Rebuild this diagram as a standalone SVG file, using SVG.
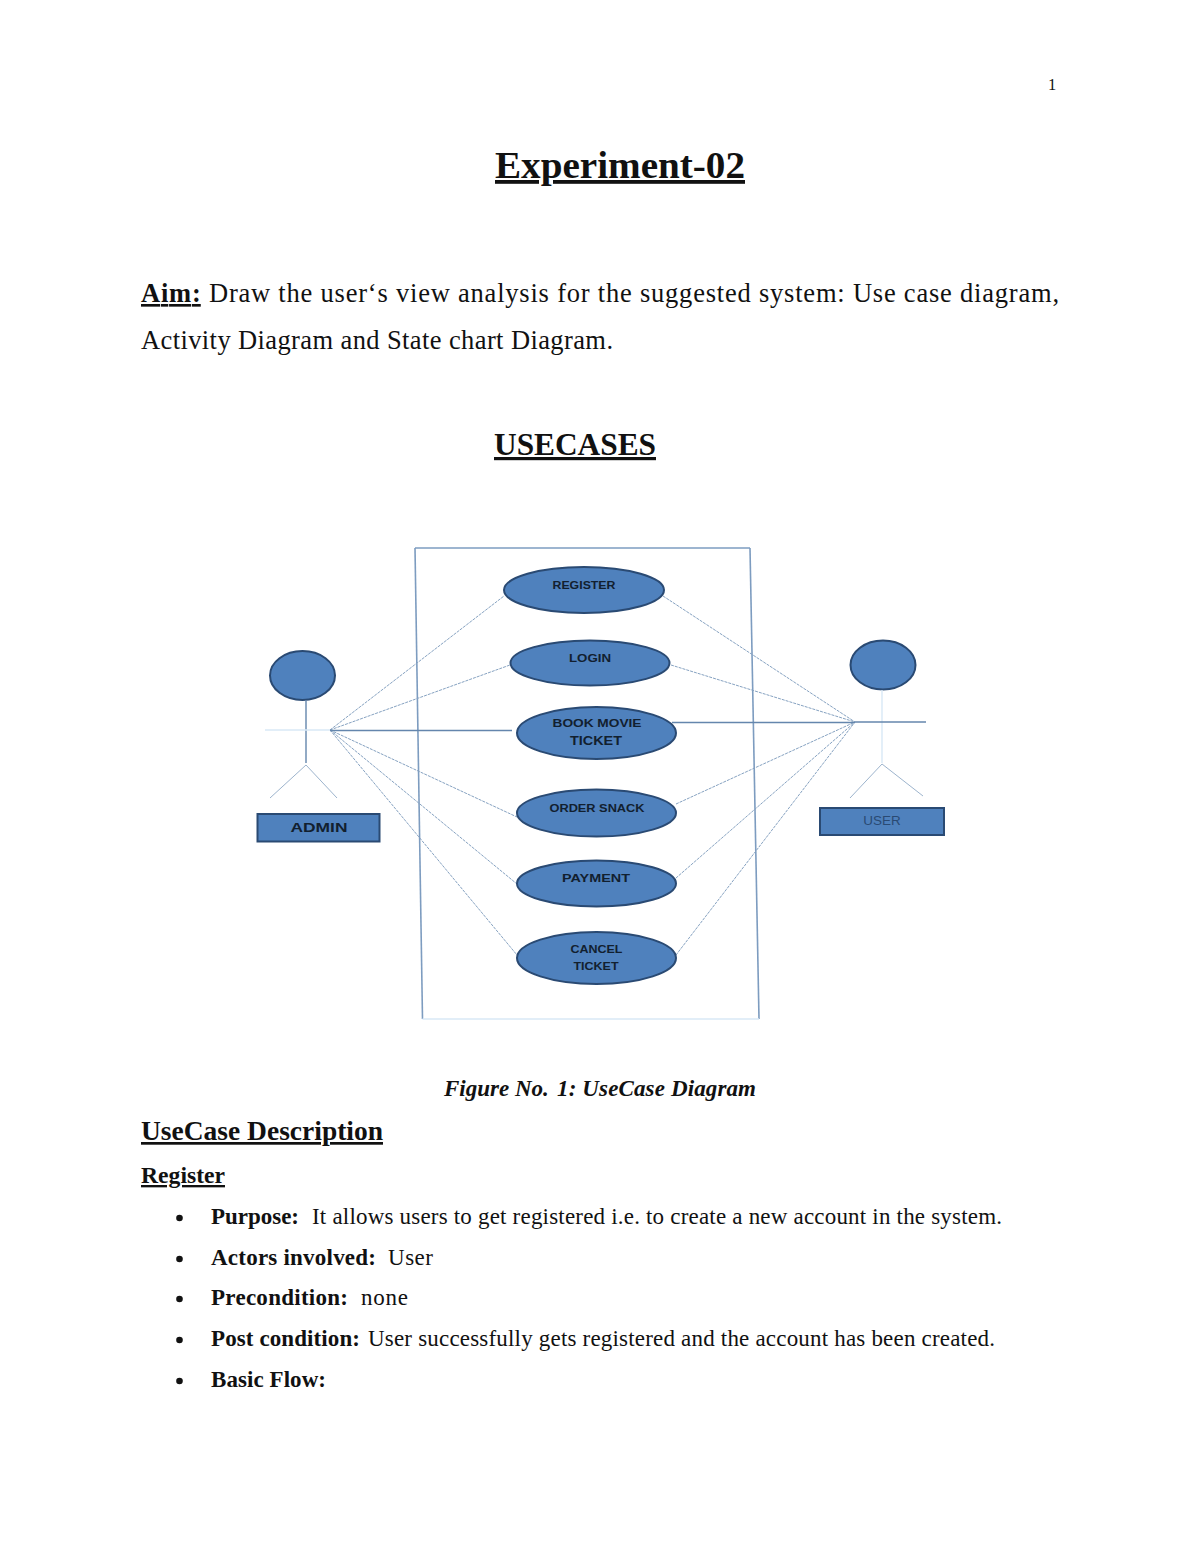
<svg xmlns="http://www.w3.org/2000/svg" width="1200" height="1553" viewBox="0 0 1200 1553">
<style>
.t{font-family:"Liberation Serif","Times New Roman",serif;fill:#111}
.b{font-weight:bold}
.body{font-size:26.500px}
.li{font-size:23px}
.u{text-decoration:underline}
.shape{fill:#4f81bd;stroke:#2a4a73;stroke-width:2}
.lab{font-family:"Liberation Sans",Arial,sans-serif;font-weight:bold;font-size:11.5px;fill:#12202f;text-anchor:middle}
.conn{fill:none;stroke:#86a2c1;stroke-width:1;stroke-dasharray:3 1}
.solid{fill:none;stroke:#6486ad;stroke-width:1.4}
.limb{fill:none;stroke:#9db4cd;stroke-width:1}
.pale{fill:none;stroke:#d8e8f6;stroke-width:1.4}
.fr{fill:none;stroke:#7d9cc0;stroke-width:1.6}
</style>
<rect width="1200" height="1553" fill="#fff"/>
<text class="t" x="1052" y="90" font-size="16.5" text-anchor="middle">1</text>
<text class="t b u" x="620" y="178" font-size="38" text-anchor="middle" textLength="250" lengthAdjust="spacingAndGlyphs">Experiment-02</text>
<text class="t body" x="141" y="302" textLength="918" lengthAdjust="spacing"><tspan class="b u">Aim:</tspan> Draw the user‘s view analysis for the suggested system: Use case diagram,</text>
<text class="t body" x="141" y="349" textLength="472" lengthAdjust="spacing">Activity Diagram and State chart Diagram.</text>
<text class="t b u" x="575" y="455" font-size="32" text-anchor="middle" textLength="162" lengthAdjust="spacingAndGlyphs">USECASES</text>
<g id="frame">
<path class="fr" d="M415 548H750"/>
<path class="fr" d="M415 548L422.500 1019"/>
<path class="fr" d="M750 548L759 1019"/>
<path class="pale" d="M422.500 1019H759"/>
</g>
<g id="connectors">
<path class="conn" d="M330 730L504 596M330 730L510 665M330 730L517 817M330 730L517 884M330 730L517 955"/>
<path class="solid" d="M330 730.500H512"/>
<path class="conn" d="M663 596L855 722M671 665L855 722M676 804L855 722M676 878L855 722M676 955L855 722"/>
<path class="solid" d="M672 722.500H855"/>
</g>
<g id="actor-admin">
<ellipse class="shape" cx="302.500" cy="675.500" rx="32.500" ry="24.500"/>
<path class="solid" d="M306 700V763"/>
<path class="limb" d="M306 765L270 798M306 765L337 798"/>
<path class="pale" d="M265 730H330"/>
<rect class="shape" x="257.500" y="814" width="122" height="27.500"/>
<text class="lab" x="319" y="832" textLength="57" lengthAdjust="spacingAndGlyphs" style="font-size:13.500px">ADMIN</text>
</g>
<g id="actor-user">
<ellipse class="shape" cx="883" cy="665" rx="32.500" ry="24.500"/>
<path class="pale" d="M882 690V763"/>
<path class="solid" d="M855 722H926"/>
<path class="limb" d="M882 764L850 798M882 764L923 796"/>
<rect class="shape" x="820" y="808" width="124" height="27"/>
<text class="lab" x="882" y="825" style="font-size:13.500px;font-weight:normal;fill:#2a4a73">USER</text>
</g>
<g id="uc-register">
<ellipse class="shape" cx="584" cy="590" rx="80" ry="23"/>
<text class="lab" x="584" y="589" textLength="63" lengthAdjust="spacingAndGlyphs">REGISTER</text>
</g>
<g id="uc-login">
<ellipse class="shape" cx="590" cy="663" rx="79.500" ry="22.500"/>
<text class="lab" x="590" y="662" textLength="42" lengthAdjust="spacingAndGlyphs">LOGIN</text>
</g>
<g id="uc-book">
<ellipse class="shape" cx="596.500" cy="733" rx="79.500" ry="26"/>
<text class="lab" x="597" y="727" textLength="89" lengthAdjust="spacingAndGlyphs">BOOK MOVIE</text>
<text class="lab" x="596" y="745" textLength="52" lengthAdjust="spacingAndGlyphs" style="font-size:12.500px">TICKET</text>
</g>
<g id="uc-snack">
<ellipse class="shape" cx="596.500" cy="813" rx="79.500" ry="23.500"/>
<text class="lab" x="597" y="812" textLength="95" lengthAdjust="spacingAndGlyphs">ORDER SNACK</text>
</g>
<g id="uc-payment">
<ellipse class="shape" cx="596.500" cy="883.500" rx="79.500" ry="23"/>
<text class="lab" x="596" y="882" textLength="68" lengthAdjust="spacingAndGlyphs">PAYMENT</text>
</g>
<g id="uc-cancel">
<ellipse class="shape" cx="596.500" cy="958" rx="79.500" ry="26"/>
<text class="lab" x="596.500" y="953" textLength="52" lengthAdjust="spacingAndGlyphs">CANCEL</text>
<text class="lab" x="596" y="970" textLength="45" lengthAdjust="spacingAndGlyphs">TICKET</text>
</g>
<text class="t b" x="444" y="1096" font-size="23" font-style="italic">Figure No.</text>
<text class="t b" x="557" y="1096" font-size="23" font-style="italic" textLength="199" lengthAdjust="spacing">1: UseCase Diagram</text>
<text class="t b u" x="141" y="1140" font-size="27" textLength="242" lengthAdjust="spacingAndGlyphs">UseCase Description</text>
<text class="t b u" x="141" y="1183" font-size="23.500" textLength="84" lengthAdjust="spacingAndGlyphs">Register</text>
<g id="bullets" fill="#111">
<circle cx="179.500" cy="1218" r="3.300"/><circle cx="179.500" cy="1259" r="3.300"/><circle cx="179.500" cy="1299" r="3.300"/><circle cx="179.500" cy="1340" r="3.300"/><circle cx="179.500" cy="1381" r="3.300"/>
</g>
<text class="t li b" x="211" y="1224" textLength="88" lengthAdjust="spacing">Purpose:</text>
<text class="t li" x="312" y="1224" textLength="690" lengthAdjust="spacing">It allows users to get registered i.e. to create a new account in the system.</text>
<text class="t li b" x="211" y="1265" textLength="165" lengthAdjust="spacing">Actors involved:</text>
<text class="t li" x="388" y="1265" textLength="45" lengthAdjust="spacing">User</text>
<text class="t li b" x="211" y="1305" textLength="137" lengthAdjust="spacing">Precondition:</text>
<text class="t li" x="361" y="1305" textLength="47" lengthAdjust="spacing">none</text>
<text class="t li b" x="211" y="1346" textLength="149" lengthAdjust="spacing">Post condition:</text>
<text class="t li" x="368" y="1346" textLength="627" lengthAdjust="spacing">User successfully gets registered and the account has been created.</text>
<text class="t li b" x="211" y="1387" textLength="115" lengthAdjust="spacing">Basic Flow:</text>
</svg>
